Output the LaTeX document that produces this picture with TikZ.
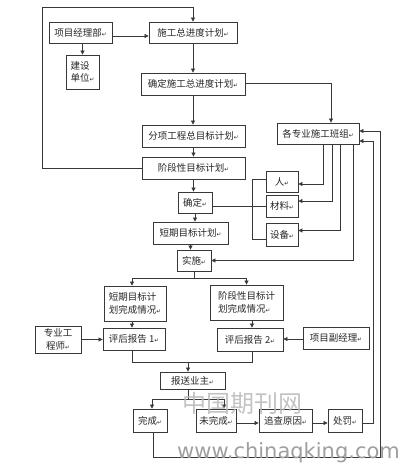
\documentclass[tikz,border=0pt]{standalone}
\usepackage{fontspec}
\setmainfont{Noto Sans CJK SC}
\newfontfamily\cjkfont{Noto Sans CJK SC}
\newfontfamily\retfont[Scale=0.6]{DejaVu Sans}
\newfontfamily\wmfont{DejaVu Sans}
\newcommand\ret{{\retfont ↵}}
\usetikzlibrary{arrows.meta,calc}
\begin{document}
\begin{tikzpicture}[x=1pt,y=-1pt,
  box/.style={draw=black!78, line width=0.8pt, inner sep=0pt,
    font=\fontsize{9.5}{12.5}\selectfont, text=black!85},
  conn/.style={draw=black!78, line width=0.7pt},
  arr/.style={conn, -{Triangle[length=4pt,width=4pt]}},
]
\useasboundingbox[fill=white] (0,0) rectangle (407,463);

% nodes
\node[box, minimum width=63pt, minimum height=21pt] (pm) at (80.5,32.5) {项目经理部\ret};
\node[box, minimum width=88pt, minimum height=21pt] (zj) at (193,32.5) {施工总进度计划\ret};
\node[box, minimum width=33pt, minimum height=34pt, align=left] (js) at (82.5,72) {建设\\单位\ret};
\node[box, minimum width=104pt, minimum height=22pt] (qd) at (193,84) {确定施工总进度计划\ret};
\node[box, minimum width=82pt, minimum height=21pt] (bz) at (318,133.5) {各专业施工班组\ret};
\node[box, minimum width=103pt, minimum height=22pt] (fx) at (193.5,136) {分项工程总目标计划\ret};
\node[box, minimum width=103pt, minimum height=22pt] (jd) at (193.5,168) {阶段性目标计划\ret};
\node[box, minimum width=32pt, minimum height=21pt] (ren) at (282,181.5) {人\ret};
\node[box, minimum width=32pt, minimum height=22pt] (cl) at (282,206) {材料\ret};
\node[box, minimum width=32pt, minimum height=23pt] (sb) at (282,234.5) {设备\ret};
\node[box, minimum width=34pt, minimum height=21pt] (qd2) at (195,202.5) {确定\ret};
\node[box, minimum width=75pt, minimum height=22pt] (dq) at (190.5,233) {短期目标计划\ret};
\node[box, minimum width=34pt, minimum height=21pt] (ss) at (194,260.5) {实施\ret};
\node[box, minimum width=62pt, minimum height=35pt, align=left] (dqwc) at (135,303.5) {短期目标计\\划完成情况\ret};
\node[box, minimum width=73pt, minimum height=35pt, align=left] (jdwc) at (246.5,302.5) {阶段性目标计\\划完成情况\ret};
\node[box, minimum width=62pt, minimum height=22pt] (ph1) at (134,339) {评后报告 1\ret};
\node[box, minimum width=66pt, minimum height=23pt] (ph2) at (250,339.5) {评后报告 2\ret};
\node[box, minimum width=46pt, minimum height=27pt, align=center] (zg) at (58,339.5) {专业工\\程师\ret};
\node[box, minimum width=66pt, minimum height=22pt] (fj) at (336,338) {项目副经理\ret};
\node[box, minimum width=65pt, minimum height=17pt] (bs) at (192.5,380.5) {报送业主\ret};
\node[box, minimum width=34pt, minimum height=23pt] (wc) at (150,420.5) {完成\ret};
\node[box, minimum width=40pt, minimum height=23pt] (wwc) at (216,420.5) {未完成\ret};
\node[box, minimum width=53pt, minimum height=23pt] (zc) at (285.5,420.5) {追查原因\ret};
\node[box, minimum width=34pt, minimum height=23pt] (cf) at (345,420.5) {处罚\ret};

% connectors
\coordinate (lt) at (42,7);
\draw[arr] (jd.west) -| (lt) -| (zj.north);
\draw[arr] ($(pm.east)+(0,3.5)$) -- ($(zj.west)+(0,3.5)$);
\draw[arr] (js.north |- pm.south) -- (js.north);
\draw[arr] (zj.south) -- (zj.south |- qd.north);
\draw[arr] ($(qd.east)+(0,-1)$) -| ($(bz.north)+(13,0)$);
\foreach \a/\b in {qd/fx, fx/jd, jd/qd2, qd2/dq, dq/ss}
  \draw[arr] (\a.south) -- (\a.south |- \b.north);

\draw[arr] ($(bz.south)+(5,0)$) |- ($(ren.east)+(0,2.5)$);
\draw[arr] ($(bz.south)+(14,0)$) |- ($(cl.east)+(0,-5)$);
\draw[arr] ($(bz.south)+(22,0)$) |- ($(sb.east)+(0,-4)$);
\draw[arr] ($(bz.south)+(35,0)$) |- (ss.east);

\draw[conn] ($(ren.west)+(0,-2.5)$) -- ++(-13,0) |- ($(sb.west)+(0,4.5)$);
\draw[conn] (cl.west) -- (cl.west -| qd2.east);

\draw[conn] (ss.south) -- ++(0,7) coordinate (sp);
\draw[arr] (sp) -| ($(dqwc.north)+(-3,0)$);
\draw[arr] (sp) -| (jdwc.north);
\draw[arr] ($(dqwc.south)+(-3,0)$) -- ($(ph1.north)+(-2,0)$);
\draw[arr] ($(jdwc.south)+(5.5,0)$) -- ($(ph2.north)+(2,0)$);
\draw[arr] (zg.east) -- (zg.east -| ph1.west);
\draw[arr] ($(fj.west)+(0,1)$) -- ($(ph2.east)+(0,-0.5)$);

\draw[conn] ($(ph1.south)+(-2,0)$) -- ++(0,12) -| ($(ph2.south)+(2,0)$);
\draw[arr] ($(bs.north)+(-4.5,-10)$) -- ($(bs.north)+(-4.5,0)$);

\draw[conn] ($(bs.south)+(-4.5,0)$) -- ++(0,10) coordinate (sp2);
\draw[arr] (sp2) -| ($(wc.north)+(2,0)$);
\draw[arr] (sp2) -| ($(wwc.north)+(8,0)$);
\draw[arr] ($(wwc.east)+(0,2.5)$) -- ($(zc.west)+(0,2.5)$);
\draw[arr] ($(zc.east)+(0,2.5)$) -- ($(cf.west)+(0,2.5)$);
\draw[arr] ($(cf.east)+(0,2.5)$) -- ++(11,0) |- ($(bz.east)+(0,7.5)$);
\draw[arr] ($(wc.south)+(3,0)$) -- ++(0,25) -| ($(bz.east)+(21,-2.5)$) -- ($(bz.east)+(0,-2.5)$);

% watermark
\node[font=\cjkfont\fontsize{24}{24}\selectfont, text=gray!55, opacity=0.85, inner sep=0pt] (wm1) at (242,403) {中国期刊网};
\node[font=\wmfont\fontsize{21}{21}\selectfont, text=gray!75, anchor=base west, inner sep=0pt] (wm2) at (177,458) {www.chinaqking.com};
\end{tikzpicture}
\end{document}
